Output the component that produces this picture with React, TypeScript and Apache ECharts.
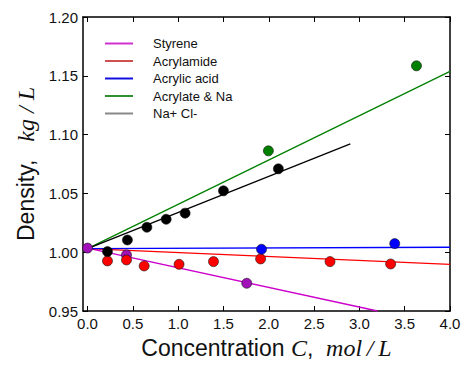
import React, { useEffect, useRef } from "react";
import * as echarts from "echarts";

// ---- data ----
const xTicks = [0, 0.5, 1.0, 1.5, 2.0, 2.5, 3.0, 3.5, 4.0];
const yTicks = [0.95, 1.0, 1.05, 1.1, 1.15, 1.2];

const seriesNames = ["Styrene", "Acrylamide", "Acrylic acid", "Acrylate & Na", "Na+ Cl-"];

const styrenePts = [[0, 1.0035], [0.43, 0.9977], [1.757, 0.9736]];
const acrylamidePts = [[0.22, 0.9926], [0.43, 0.9934], [0.625, 0.9883], [1.01, 0.9897], [1.39, 0.992], [1.91, 0.9943], [2.676, 0.992], [3.345, 0.99]];
const acrylicPts = [[1.92, 1.0025], [3.39, 1.0073]];
const acrylatePts = [[1.996, 1.0862], [3.63, 1.1585]];
const naclPts = [[0.22, 1.0005], [0.44, 1.0104], [0.655, 1.0212], [0.868, 1.028], [1.077, 1.0332], [1.5, 1.0522], [2.106, 1.0709]];

const styreneFit = [[0, 1.0035], [3.2, 0.95]];
const acrylamideFit = [[0, 1.003], [4.0, 0.9897]];
const acrylicFit = [[0, 1.003], [4.0, 1.0042]];
const acrylateFit = [[0, 1.003], [4.0, 1.1537]];
const naclFit = [[0, 1.003], [2.9, 1.0921]];

const lineColors = ["#cc00cc", "#ff0000", "#0000ff", "#008000", "#000000"];
const markerColors = ["#a012b8", "#ff0000", "#0000ff", "#008000", "#000000"];
const legendColors = ["#d030d0", "#d05050", "#1010e0", "#309030", "#888888"];

export default function App() {
  const ref = useRef<HTMLDivElement>(null);
  useEffect(() => {
    const chart = echarts.init(ref.current!, null, { renderer: "svg" });
    const pts = [styrenePts, acrylamidePts, acrylicPts, acrylatePts, naclPts];
    const fits = [styreneFit, acrylamideFit, acrylicFit, acrylateFit, naclFit];
    const sans = "Liberation Sans, Arial, sans-serif";
    const serif = "Liberation Serif, DejaVu Serif, serif";
    const lineSeries = seriesNames.map((n, i) => ({
      name: n,
      type: "line",
      data: fits[i],
      symbol: "none",
      showSymbol: false,
      lineStyle: { color: lineColors[i], width: 1.3 },
      itemStyle: { color: lineColors[i] },
      z: 2,
      silent: true,
    }));
    const scatterSeries = seriesNames.map((n, i) => ({
      name: n + " data",
      type: "scatter",
      data: pts[i],
      symbol: "circle",
      symbolSize: 10,
      itemStyle: { color: markerColors[i], borderColor: "#111", borderWidth: 0.6, opacity: 1 },
      z: 3 + i,
      silent: true,
    }));
    const axisLine = { show: true, onZero: false, lineStyle: { color: "#000", width: 1.5 } };
    chart.setOption({
      animation: false,
      backgroundColor: "#fff",
      grid: { left: 83, right: 24, top: 17, bottom: 56, containLabel: false, outerBoundsMode: "none" },
      legend: {
        orient: "vertical",
        left: 105,
        top: 37,
        padding: 0,
        itemWidth: 28,
        itemHeight: 14,
        itemGap: 4.5,
        data: seriesNames.map((n, i) => ({
          name: n,
          icon: "path://M0,6 H28 V8 H0 Z",
          itemStyle: { color: legendColors[i] },
          lineStyle: { color: legendColors[i] },
        })),
        formatter: (name: string) => "{g|}{t|" + name + "}",
        textStyle: {
          rich: {
            g: { width: 15 },
            t: { fontFamily: sans, fontSize: 13, color: "#111" },
          },
        },
      },
      xAxis: [
        {
          type: "value",
          min: -0.05,
          max: 4.0,
          position: "bottom",
          axisLine,
          axisTick: { show: true, inside: true, length: 5, customValues: xTicks, lineStyle: { color: "#000", width: 1 } },
          axisLabel: {
            customValues: xTicks,
            formatter: (v: number) => v.toFixed(1),
            fontFamily: sans,
            fontSize: 15,
            color: "#111",
            margin: 5,
          },
          splitLine: { show: false },
          name: "{a|Concentration }{b|C}{a|,  }{b|mol\u2009/\u2009L}",
          nameLocation: "middle",
          nameGap: 23,
          nameTextStyle: {
            rich: {
              a: { fontFamily: sans, fontSize: 23, color: "#111" },
              b: { fontFamily: serif, fontStyle: "italic", fontSize: 24, color: "#111" },
            },
          },
        },
        {
          type: "value",
          min: -0.05,
          max: 4.0,
          position: "top",
          axisLine,
          axisTick: { show: true, inside: true, length: 5, customValues: xTicks, lineStyle: { color: "#000", width: 1 } },
          axisLabel: { show: false },
          splitLine: { show: false },
        },
      ],
      yAxis: [
        {
          type: "value",
          min: 0.95,
          max: 1.2,
          position: "left",
          axisLine,
          axisTick: { show: true, inside: true, length: 5, customValues: yTicks, lineStyle: { color: "#000", width: 1 } },
          axisLabel: {
            customValues: yTicks,
            formatter: (v: number) => v.toFixed(2),
            fontFamily: sans,
            fontSize: 15,
            color: "#111",
            margin: 5,
          },
          splitLine: { show: false },
          name: "{a|Density,}{b|   kg / L}",
          nameLocation: "middle",
          nameRotate: 90,
          nameGap: 45,
          nameTextStyle: {
            rich: {
              a: { fontFamily: sans, fontSize: 23, color: "#111" },
              b: { fontFamily: serif, fontStyle: "italic", fontSize: 24, color: "#111" },
            },
          },
        },
        {
          type: "value",
          min: 0.95,
          max: 1.2,
          position: "right",
          axisLine,
          axisTick: { show: true, inside: true, length: 5, customValues: yTicks, lineStyle: { color: "#000", width: 1 } },
          axisLabel: { show: false },
          splitLine: { show: false },
        },
      ],
      series: [...lineSeries, ...scatterSeries],
    });
    return () => chart.dispose();
  }, []);
  return (
    <div
      ref={ref}
      style={{ position: "absolute", left: 0, top: 0, width: 474, height: 367 }}
    />
  );
}
